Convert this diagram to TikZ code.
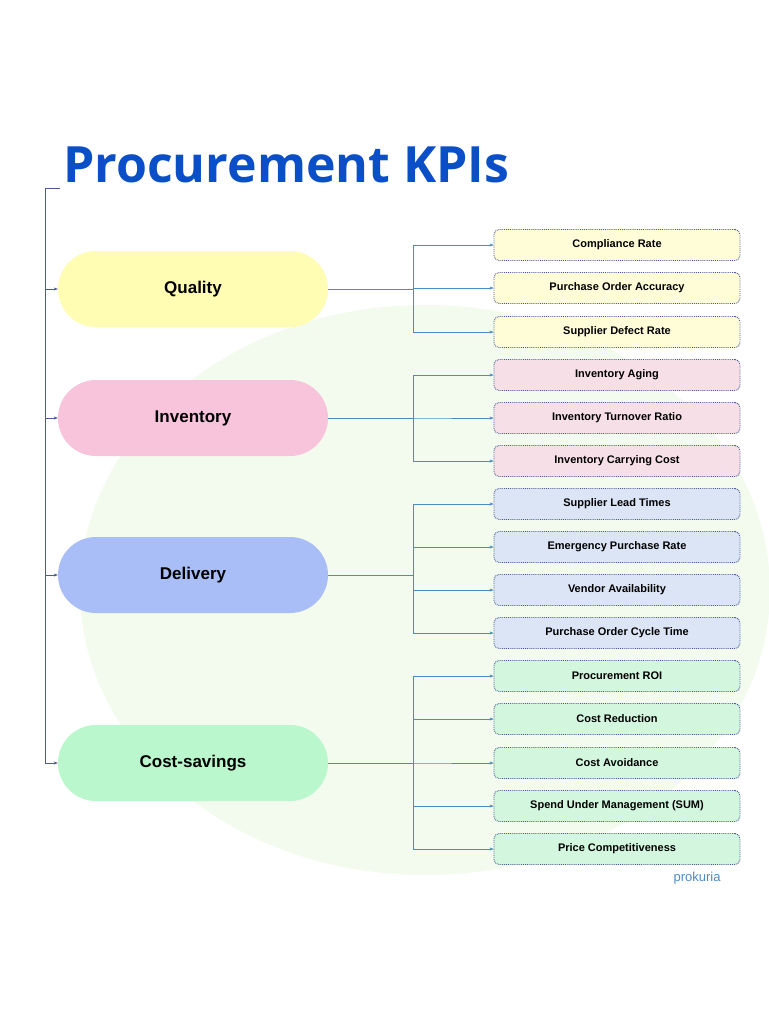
\documentclass[tikz,border=0pt]{standalone}
\usepackage{fontspec}
\setmainfont{Liberation Sans}
\newfontfamily\titlefont{Open Sans}
\usetikzlibrary{arrows.meta}
\definecolor{tblue}{HTML}{0B4FC8}
\definecolor{cline}{HTML}{4A8CC8}
\definecolor{bline}{HTML}{4C5A9A}
\definecolor{qp}{HTML}{FFFCB4}\definecolor{qk}{HTML}{FFFDD8}
\definecolor{ip}{HTML}{F8C4DC}\definecolor{ik}{HTML}{F6DFE6}
\definecolor{dp}{HTML}{A9BDF6}\definecolor{dk}{HTML}{DCE5F6}
\definecolor{cp}{HTML}{BAF7CC}\definecolor{ck}{HTML}{D2F6DE}
\definecolor{bg}{HTML}{F2FBEE}
\begin{document}
\begin{tikzpicture}[x=1pt,y=-1pt,
 pill/.style={rounded corners=38pt,minimum width=270pt,minimum height=76pt,font=\bfseries\fontsize{17}{20}\selectfont},
 kid/.style={draw=bline,densely dotted,line width=0.9pt,rounded corners=5pt,minimum width=246pt,minimum height=31pt,font=\bfseries\fontsize{11}{13}\selectfont},
 conn/.style={draw=cline,-{Stealth[length=4pt,width=3pt]}},
 bconn/.style={draw=bline,-{Stealth[length=4pt,width=3pt]}}]
\useasboundingbox (0,0) rectangle (768,1024);
\fill[white] (0,0) rectangle (768,1024);
\fill[bg] (425,590) ellipse [x radius=345,y radius=285];
\node[anchor=base west,text=tblue,font=\titlefont\bfseries\fontsize{50}{54}\selectfont,inner sep=0] (title) at (63,183) {Procurement KPIs};
\node[pill,fill=qp] (q) at (193,289) {Quality};
\node[pill,fill=ip] (i) at (193,418) {Inventory};
\node[pill,fill=dp] (d) at (193,575) {Delivery};
\node[pill,fill=cp] (c) at (193,763) {Cost-savings};
\coordinate (top) at (45,188);
\coordinate (tt) at (60,188);
\draw[bline] (tt) -- (top) -- (45,763);
\foreach \n/\y in {q/289,i/418,d/575,c/763}{
 \coordinate (a\n) at (45,\y);
 \draw[bconn] (a\n) -- (\n.west);}
\foreach \nm/\y/\tx/\col/\pn in {
 k1/245/Compliance Rate/qk/q, k2/288/Purchase Order Accuracy/qk/q, k3/332/Supplier Defect Rate/qk/q,
 k4/375/Inventory Aging/ik/i, k5/418/Inventory Turnover Ratio/ik/i, k6/461/Inventory Carrying Cost/ik/i,
 k7/504/Supplier Lead Times/dk/d, k8/547/Emergency Purchase Rate/dk/d, k9/590/Vendor Availability/dk/d, k10/633/Purchase Order Cycle Time/dk/d,
 k11/676/Procurement ROI/ck/c, k12/719/Cost Reduction/ck/c, k13/763/Cost Avoidance/ck/c, k14/806/Spend Under Management (SUM)/ck/c, k15/849/Price Competitiveness/ck/c}{
 \node[kid,fill=\col] (\nm) at (617,\y) {\tx};
 \coordinate (j\nm) at (413,\y);
 \draw[conn] (\pn.east) -| (j\nm) -- (\nm.west);}
\node[text=cline,font=\fontsize{13}{15}\selectfont] (logo) at (697,878) {prokuria};
\end{tikzpicture}
\end{document}
